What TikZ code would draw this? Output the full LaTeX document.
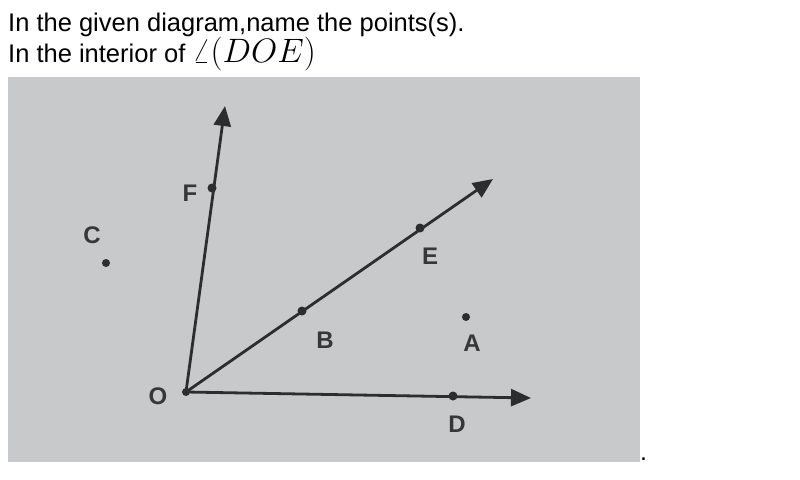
\documentclass[tikz,border=0pt]{standalone}
\usepackage{fontspec}
\usepackage{graphicx}
\setmainfont{Liberation Sans}
\usetikzlibrary{arrows.meta}
\definecolor{photobg}{RGB}{200,201,203}
\definecolor{ink}{RGB}{45,45,48}
\definecolor{lab}{RGB}{55,55,58}
\begin{document}
\begin{tikzpicture}[x=1pt,y=-1pt,
  ray/.style={draw=ink,line width=2.8pt,-{Triangle[length=20pt,width=17pt]}},
  pt/.style={circle,fill=ink,inner sep=0pt,minimum size=9pt},
  lbl/.style={text=lab,font=\bfseries\fontsize{24}{26}\selectfont,inner sep=0pt},
  qtext/.style={anchor=base west,inner sep=0pt,font=\fontsize{25.5}{30}\selectfont}]
\useasboundingbox (0,0) rectangle (800,479);
\fill[white] (0,0) rectangle (800,479);
\node[qtext] (q1) at (8,31) {In the given diagram,name the points(s).};
\node[qtext] (q2) at (8,62) {In the interior of \scalebox{1.36}{$\angle(DOE)$}};
\fill[photobg] (8,77) rectangle (640,462);
\node[anchor=base west,inner sep=0pt,font=\fontsize{25}{28}\selectfont] (dot) at (640,460) {.};
% points
\node[pt,minimum size=8pt] (O) at (186,392) {};
\coordinate (Ftip) at (225,106);
\coordinate (Etip) at (493,179);
\coordinate (Dtip) at (531,398);
\draw[ray] (O.center) -- (Ftip);
\draw[ray] (O.center) -- (Etip);
\draw[ray] (O.center) -- (Dtip);
\node[pt] (F) at (212,188) {};
\node[pt] (E) at (420,228) {};
\node[pt] (B) at (302,311) {};
\node[pt] (D) at (453,396) {};
\node[pt,minimum size=8pt] (C) at (106,263) {};
\node[pt,minimum size=8pt] (A) at (466,317) {};
% labels
\node[lbl] (lF) at (190,193) {F};
\node[lbl] (lE) at (430,256) {E};
\node[lbl] (lB) at (325,340) {B};
\node[lbl] (lD) at (457,424) {D};
\node[lbl] (lO) at (158,396) {O};
\node[lbl] (lC) at (92,235) {C};
\node[lbl] (lA) at (472,343) {A};
\end{tikzpicture}
\end{document}
